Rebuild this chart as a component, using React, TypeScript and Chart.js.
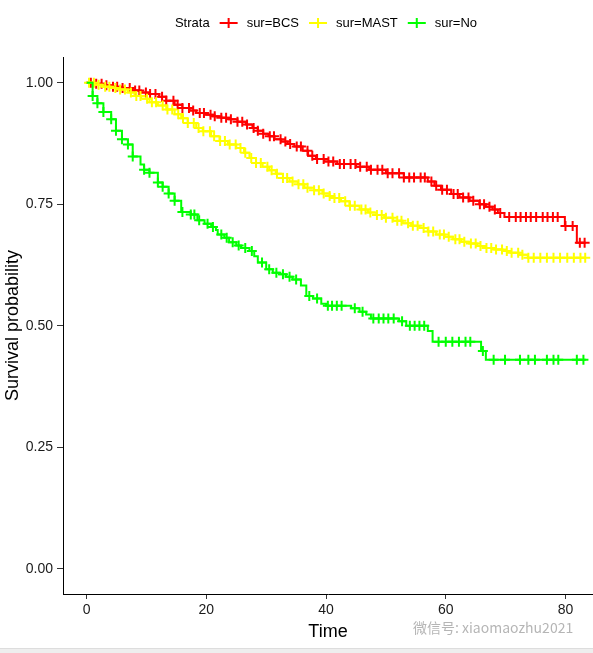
import React, { useEffect, useRef } from 'react';
import { Chart, registerables } from 'chart.js';

Chart.register(...registerables);

// ---------- data ----------
const X_TICKS = [0, 20, 40, 60, 80];
const Y_TICKS = [0, 0.25, 0.5, 0.75, 1.0];
const X_TITLE = 'Time';
const Y_TITLE = 'Survival probability';
const LEGEND_TITLE = 'Strata';
const STRATA = ['sur=BCS', 'sur=MAST', 'sur=No'];
const COLORS = ['#FF0000', '#FFFF00', '#00FF00'];
const WATERMARK = '微信号: xiaomaozhu2021';

// sur=BCS (red)
const BCS_T = [0, 1.5, 3.0, 4.4, 6.0, 7.7, 9.1, 10.5, 12.1, 13.3, 14.7, 16.0, 17.2, 18.3, 19.7, 21.1, 22.5, 23.8, 25.2, 26.6, 27.7, 28.6, 29.5, 30.4, 31.4, 32.5, 33.6, 34.7, 36.1, 37.0, 38.3, 39.7, 41.9, 45.0, 47.2, 50.0, 53.0, 57.0, 58.1, 59.2, 60.9, 62.3, 64.0, 65.6, 66.7, 67.8, 68.7, 69.8, 79.9, 81.9, 83.4];
const BCS_S = [1.0, 0.998, 0.995, 0.992, 0.989, 0.984, 0.980, 0.977, 0.971, 0.963, 0.955, 0.948, 0.943, 0.938, 0.934, 0.931, 0.928, 0.925, 0.920, 0.914, 0.907, 0.901, 0.895, 0.890, 0.884, 0.879, 0.874, 0.869, 0.860, 0.850, 0.843, 0.838, 0.833, 0.827, 0.821, 0.814, 0.805, 0.797, 0.788, 0.780, 0.771, 0.764, 0.757, 0.750, 0.745, 0.739, 0.732, 0.724, 0.705, 0.671, 0.671];
const BCS_CENSOR = [0.7, 1.6, 2.5, 3.3, 4.4, 5.1, 6.0, 7.2, 8.1, 8.8, 9.9, 10.6, 11.5, 12.6, 13.3, 14.5, 15.2, 16.0, 17.1, 17.8, 18.9, 19.6, 20.7, 21.4, 22.5, 23.3, 24.1, 25.2, 26.0, 26.8, 27.9, 28.6, 29.5, 30.6, 31.3, 32.4, 33.2, 34.0, 35.1, 35.8, 36.9, 37.7, 38.5, 39.6, 40.4, 41.2, 42.3, 43.0, 44.1, 44.9, 45.7, 46.8, 47.5, 48.6, 49.4, 50.3, 51.1, 52.2, 53.0, 53.9, 54.7, 55.8, 56.5, 57.6, 58.4, 59.4, 60.2, 61.3, 62.0, 62.9, 63.8, 64.6, 65.7, 66.4, 67.3, 68.2, 69.1, 70.6, 71.7, 72.5, 73.4, 74.2, 75.1, 76.2, 77.0, 77.9, 78.7, 80.0, 81.2, 82.4, 83.2];

// sur=MAST (yellow)
const MAST_T = [0, 1.3, 2.7, 4.1, 5.5, 6.9, 8.0, 9.1, 10.5, 11.9, 13.3, 14.7, 15.8, 16.9, 18.3, 19.4, 20.8, 22.2, 23.6, 25.0, 26.3, 27.2, 28.3, 29.4, 30.5, 31.6, 32.8, 33.9, 35.3, 36.4, 38.0, 39.4, 40.6, 41.4, 42.5, 43.9, 45.6, 47.0, 48.4, 49.7, 51.2, 52.8, 54.2, 55.6, 57.0, 58.4, 59.8, 61.2, 62.6, 63.9, 65.3, 66.7, 68.1, 69.5, 70.9, 72.3, 73.7, 83.4];
const MAST_S = [1.0, 0.996, 0.992, 0.989, 0.986, 0.980, 0.973, 0.967, 0.960, 0.953, 0.945, 0.935, 0.927, 0.917, 0.907, 0.900, 0.890, 0.880, 0.873, 0.866, 0.856, 0.845, 0.835, 0.827, 0.820, 0.813, 0.804, 0.797, 0.791, 0.784, 0.779, 0.772, 0.767, 0.763, 0.756, 0.747, 0.739, 0.733, 0.728, 0.722, 0.716, 0.711, 0.706, 0.701, 0.694, 0.688, 0.683, 0.678, 0.673, 0.669, 0.664, 0.660, 0.657, 0.654, 0.650, 0.646, 0.640, 0.640];
const MAST_CENSOR = [0.4, 1.2, 2.0, 3.1, 3.8, 4.8, 5.6, 6.4, 7.4, 8.3, 9.0, 10.1, 10.9, 11.6, 12.7, 13.5, 14.3, 15.3, 16.1, 16.9, 17.9, 18.7, 19.5, 20.6, 21.3, 22.3, 23.1, 23.9, 24.9, 25.7, 26.5, 27.5, 28.3, 29.1, 30.2, 30.9, 31.8, 32.8, 33.5, 34.4, 35.4, 36.2, 36.9, 38.0, 38.8, 39.6, 40.6, 41.4, 42.2, 43.2, 44.0, 44.8, 45.9, 46.6, 47.4, 48.5, 49.3, 50.0, 51.1, 51.9, 52.6, 53.7, 54.5, 55.3, 56.3, 57.1, 57.9, 59.0, 59.7, 60.5, 61.6, 62.3, 63.1, 64.2, 65.0, 65.8, 66.8, 67.6, 68.4, 69.4, 70.2, 71.0, 72.1, 72.8, 73.8, 74.7, 75.8, 76.9, 78.0, 79.1, 80.3, 81.4, 82.5, 83.3];

// sur=No (green)
const NO_T = [0, 1.0, 1.8, 2.8, 4.1, 4.9, 5.9, 6.9, 7.7, 9.0, 9.6, 10.5, 11.9, 12.7, 13.7, 14.7, 15.8, 17.4, 18.5, 19.7, 20.8, 21.6, 21.9, 23.0, 23.8, 25.0, 25.8, 27.2, 28.0, 28.6, 30.0, 31.1, 32.2, 33.3, 34.4, 35.8, 36.7, 37.8, 39.2, 40.0, 44.2, 45.6, 46.7, 47.5, 52.2, 53.4, 57.0, 57.8, 65.9, 66.7, 83.4];
const NO_S = [1.0, 0.973, 0.958, 0.940, 0.925, 0.901, 0.884, 0.873, 0.848, 0.832, 0.821, 0.815, 0.795, 0.786, 0.772, 0.757, 0.734, 0.729, 0.717, 0.710, 0.703, 0.697, 0.688, 0.681, 0.672, 0.665, 0.660, 0.654, 0.643, 0.630, 0.616, 0.609, 0.606, 0.601, 0.595, 0.583, 0.561, 0.556, 0.545, 0.541, 0.536, 0.529, 0.523, 0.515, 0.509, 0.500, 0.489, 0.467, 0.448, 0.430, 0.430];
const NO_CENSOR = [1.0, 1.8, 2.8, 4.1, 4.9, 5.9, 6.9, 7.7, 9.6, 10.5, 11.9, 12.7, 13.7, 14.7, 16.0, 17.4, 18.0, 18.8, 20.2, 21.1, 22.5, 23.4, 24.4, 25.4, 26.5, 27.6, 29.3, 30.5, 31.7, 32.8, 33.9, 35.0, 37.2, 38.5, 40.3, 41.0, 41.8, 42.6, 44.8, 46.1, 47.9, 48.8, 49.6, 50.4, 51.3, 52.7, 54.0, 54.8, 55.6, 56.4, 58.8, 60.0, 61.1, 62.2, 63.3, 64.1, 66.2, 68.0, 69.9, 72.4, 73.8, 74.9, 76.9, 78.0, 78.8, 81.9, 83.0];

const SERIES_T = [BCS_T, MAST_T, NO_T];
const SERIES_S = [BCS_S, MAST_S, NO_S];
const SERIES_CENSOR = [BCS_CENSOR, MAST_CENSOR, NO_CENSOR];

// ---------- helpers ----------
function stepAt(times: number[], surv: number[], t: number): number {
  let s = surv[0];
  for (let i = 0; i < times.length; i++) {
    if (times[i] <= t) s = surv[i];
  }
  return s;
}

const FONT = '"Liberation Sans", Arial, sans-serif';

const kmLegendPlugin = {
  id: 'kmLegend',
  afterDraw(chart: any) {
    const ctx = chart.ctx as CanvasRenderingContext2D;
    const area = chart.chartArea;
    ctx.save();
    ctx.font = `13px ${FONT}`;
    ctx.textBaseline = 'middle';
    ctx.textAlign = 'left';
    const iconW = 18;
    const gapIconText = 9;
    const gapTextIcon = 10;
    const widths = STRATA.map((s) => ctx.measureText(s).width);
    const titleW = ctx.measureText(LEGEND_TITLE).width;
    const total = titleW + widths.reduce((a, w) => a + gapTextIcon + iconW + gapIconText + w, 0);
    let x = (area.left + area.right) / 2 - total / 2 - 2;
    const y = 23;
    ctx.fillStyle = '#000';
    ctx.fillText(LEGEND_TITLE, x, y);
    x += titleW;
    STRATA.forEach((s, i) => {
      x += gapTextIcon;
      ctx.strokeStyle = COLORS[i];
      ctx.lineWidth = 2;
      ctx.beginPath();
      ctx.moveTo(x, y);
      ctx.lineTo(x + iconW, y);
      ctx.moveTo(x + iconW / 2, y - 5);
      ctx.lineTo(x + iconW / 2, y + 5);
      ctx.stroke();
      x += iconW + gapIconText;
      ctx.fillStyle = '#000';
      ctx.fillText(s, x, y);
      x += widths[i];
    });

    // watermark
    ctx.font = `14px "Noto Sans CJK SC", ${FONT}`;
    ctx.fillStyle = 'rgba(150,150,150,0.7)';
    ctx.textBaseline = 'middle';
    ctx.fillText(WATERMARK, 413, 628);
    ctx.restore();
  },
};

export default function App() {
  const canvasRef = useRef<HTMLCanvasElement | null>(null);

  useEffect(() => {
    document.body.style.margin = '0';
    document.body.style.overflow = 'hidden';
    const canvas = canvasRef.current;
    if (!canvas) return;

    const datasets: any[] = [];
    STRATA.forEach((label, i) => {
      const times = SERIES_T[i];
      const surv = SERIES_S[i];
      const baseOrder = (2 - i) * 2; // green on top, red at bottom
      datasets.push({
        label,
        data: times.map((t, k) => ({ x: t, y: surv[k] })),
        showLine: true,
        stepped: true,
        borderColor: COLORS[i],
        backgroundColor: COLORS[i],
        borderWidth: 2,
        pointRadius: 0,
        fill: false,
        order: baseOrder + 1,
      });
      datasets.push({
        label: label + ' censor',
        data: SERIES_CENSOR[i].map((t) => ({ x: t, y: stepAt(times, surv, t) })),
        showLine: false,
        pointStyle: 'cross',
        pointRadius: 5,
        borderColor: COLORS[i],
        backgroundColor: COLORS[i],
        borderWidth: 2,
        order: baseOrder,
      });
    });

    const chart = new Chart(canvas, {
      type: 'scatter',
      data: { datasets },
      plugins: [kmLegendPlugin],
      options: {
        animation: false,
        responsive: true,
        maintainAspectRatio: false,
        layout: { autoPadding: false, padding: { top: 57, left: 0, right: 0, bottom: 0 } },
        plugins: {
          legend: { display: false },
          tooltip: { enabled: false },
        },
        scales: {
          x: {
            type: 'linear',
            min: -3.95,
            max: 84.6,
            afterBuildTicks: (scale: any) => {
              scale.ticks = X_TICKS.map((v) => ({ value: v }));
            },
            afterFit: (scale: any) => {
              scale.height = 54;
              scale.paddingLeft = 0;
              scale.paddingRight = 0;
            },
            grid: { drawOnChartArea: false, drawTicks: true, tickLength: 5, color: '#333', lineWidth: 1 },
            border: { display: true, color: '#000', width: 1 },
            ticks: { color: '#1a1a1a', font: { size: 14, family: FONT }, padding: 3, maxRotation: 0 },
            title: { display: true, text: X_TITLE, color: '#000', font: { size: 18, family: FONT }, padding: { top: 0, bottom: 5 } },
          },
          y: {
            type: 'linear',
            min: -0.052,
            max: 1.053,
            afterBuildTicks: (scale: any) => {
              scale.ticks = Y_TICKS.map((v) => ({ value: v }));
            },
            afterFit: (scale: any) => {
              scale.width = 63;
              scale.paddingTop = 0;
              scale.paddingBottom = 0;
            },
            grid: { drawOnChartArea: false, drawTicks: true, tickLength: 6, color: '#333', lineWidth: 1 },
            border: { display: true, color: '#000', width: 1 },
            ticks: {
              color: '#1a1a1a',
              font: { size: 14, family: FONT },
              padding: 4,
              callback: (v: any) => Number(v).toFixed(2),
            },
            title: { display: true, text: Y_TITLE, color: '#000', font: { size: 18, family: FONT }, padding: { top: 2, bottom: 0 } },
          },
        },
      } as any,
    });

    return () => {
      chart.destroy();
    };
  }, []);

  return (
    <div style={{ width: 593, height: 653, background: '#fff', fontFamily: FONT }}>
      <div style={{ position: 'relative', width: 593, height: 648 }}>
        <canvas ref={canvasRef} />
      </div>
      <div style={{ width: 593, height: 5, background: '#eeeeee', borderTop: '1px solid #dddddd', boxSizing: 'border-box' }} />
    </div>
  );
}
